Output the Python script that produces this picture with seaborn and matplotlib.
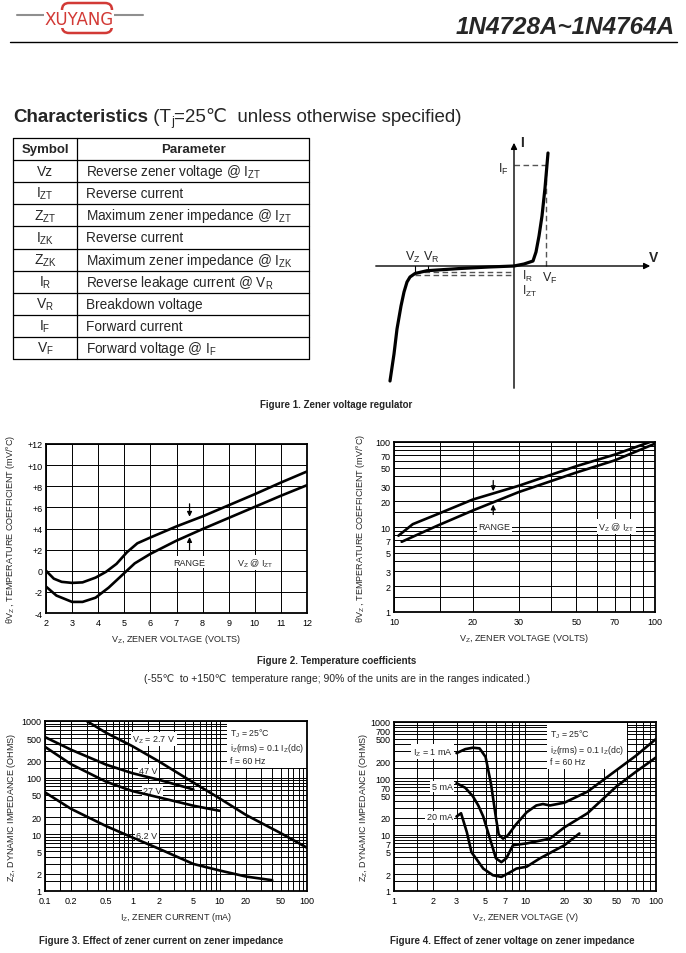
import matplotlib
matplotlib.use("Agg")
import matplotlib.pyplot as plt
from matplotlib import font_manager
from matplotlib.patches import FancyBboxPatch
from matplotlib.ticker import NullFormatter
import seaborn as sns

# ---------------- data ----------------
table_symbols = ["Vz", "I$_{ZT}$", "Z$_{ZT}$", "I$_{ZK}$", "Z$_{ZK}$",
                 "I$_R$", "V$_R$", "I$_F$", "V$_F$"]
table_params = [
    "Reverse zener voltage @ I$_{ZT}$",
    "Reverse current",
    "Maximum zener impedance @ I$_{ZT}$",
    "Reverse current",
    "Maximum zener impedance @ I$_{ZK}$",
    "Reverse leakage current @ V$_R$",
    "Breakdown voltage",
    "Forward current",
    "Forward voltage @ I$_F$",
]

# figure 1: schematic V-I characteristic (arbitrary units)
iv_volt = [-124, -120, -117, -113, -110, -107, -104, -99, -87, -54, -25, 0,
           10, 19, 22, 25, 28, 31, 34]
iv_curr = [-115, -88, -63, -40, -26, -16, -11, -7.5, -4.7, -2.5, -1, 0,
           2, 5, 14, 30, 50, 78, 113]
iv_if, iv_vf = 101, 32
iv_ir, iv_izt = -5.7, -8.7
iv_vz, iv_vr = -99, -86

# figure 2 left: temperature coefficient, 2-12 V
tc_lo_vz_a = [2, 2.3, 2.6, 3.0, 3.4, 3.9, 4.3, 4.7, 5.1, 5.5, 6.0, 7, 8, 9, 10, 11, 12]
tc_lo_max = [0.0, -0.75, -1.05, -1.15, -1.1, -0.65, -0.1, 0.65, 1.75, 2.6, 3.15,
             4.2, 5.15, 6.2, 7.25, 8.35, 9.4]
tc_lo_vz_b = [2, 2.4, 3.0, 3.4, 3.9, 4.4, 4.9, 5.4, 6.0, 7, 8, 9, 10, 11, 12]
tc_lo_min = [-1.5, -2.35, -2.95, -2.95, -2.55, -1.6, -0.45, 0.7, 1.6, 2.85,
             3.95, 5.0, 6.05, 7.1, 8.1]

# figure 2 right: temperature coefficient, 10-100 V
tc_hi_vz_a = [10.4, 11.8, 14.7, 20, 30, 50, 70, 100]
tc_hi_max = [7.9, 10.8, 14.2, 21, 30.5, 52, 71, 105]
tc_hi_vz_b = [10.7, 14.7, 20, 30, 50, 70, 100]
tc_hi_min = [6.7, 10.4, 15.6, 25.7, 43.8, 60.7, 95.6]

# figure 3: impedance vs zener current
iz_27 = [0.3, 0.5, 1, 2, 5, 10, 20, 50, 100]
zz_27 = [1000, 620, 360, 195, 82, 43, 22, 10.5, 5.8]
iz_47 = [0.1, 0.2, 0.5, 1, 2, 5]
zz_47 = [520, 310, 170, 120, 92, 62]
iz_270 = [0.1, 0.2, 0.5, 1, 2, 5, 10]
zz_270 = [350, 172, 85, 58, 45, 32, 26]
iz_62 = [0.1, 0.2, 0.5, 1, 2, 5, 10, 20, 40]
zz_62 = [55, 28, 14, 8.8, 5.6, 3.0, 2.3, 1.8, 1.55]

# figure 4: impedance vs zener voltage
vz_1ma = [3.0, 3.5, 4.0, 4.5, 5.0, 5.5, 6.0, 6.3, 6.8, 7.4, 8.5, 10.3, 12.2,
          13.7, 15.5, 20, 30, 50, 70, 100]
zz_1ma = [280, 330, 350, 340, 240, 80, 20, 10, 8.5, 9.7, 15, 25, 33, 35, 33,
          37, 58, 140, 250, 500]
vz_5ma = [3.0, 3.5, 4.0, 4.4, 4.8, 5.4, 6.0, 6.6, 7.2, 8.1, 10.3, 15.5, 20, 30,
          50, 70, 100]
zz_5ma = [82, 68, 48, 33, 21, 8.5, 3.8, 3.25, 3.8, 6.5, 7.0, 8.5, 13.5, 24, 72,
          130, 235]
vz_20ma = [3.0, 3.25, 3.6, 3.9, 4.8, 5.7, 6.6, 7.7, 8.6, 10.3, 13, 20, 26]
zz_20ma = [21, 24, 11, 4.9, 2.5, 1.9, 1.78, 2.15, 2.5, 2.7, 3.8, 6.5, 10.5]

# ---------------- style ----------------
sns.set_theme(style="white")
plt.rcParams["font.family"] = ["Liberation Sans", "DejaVu Sans"]
plt.rcParams["mathtext.default"] = "regular"
plt.rcParams["axes.unicode_minus"] = False

names = {f.name for f in font_manager.fontManager.ttflist}
narrow = "Liberation Sans Narrow" if "Liberation Sans Narrow" in names else "Liberation Sans"
chart_font = [narrow, "DejaVu Sans"]

W, H = 686, 954
fig = plt.figure(figsize=(W / 100, H / 100), dpi=100)
fig.patch.set_facecolor("white")


def px_axes(x0, y0, x1, y1):
    return fig.add_axes([x0 / W, 1 - y1 / H, (x1 - x0) / W, (y1 - y0) / H])


# page overlay in pixel coordinates
page = px_axes(0, 0, W, H)
page.set_xlim(0, W)
page.set_ylim(H, 0)
page.axis("off")

# header
page.plot([17, 143], [16, 16], color="#8f8f8f", lw=1.5)
page.add_patch(FancyBboxPatch((62, 4), 50, 30, boxstyle="round,pad=0,rounding_size=7",
                              ec="#d23a36", fc="none", lw=1.8))
page.text(79, 20, "XUYANG", color="#d23a36", fontsize=12,
          family="DejaVu Sans", ha="center", va="center",
          bbox=dict(fc="white", ec="none", pad=0.3))
page.text(675, 28, "1N4728A~1N4764A", fontsize=17.5, fontweight="bold",
          fontstyle="italic", ha="right", va="center")
page.plot([10, 677], [43, 43], color="black", lw=1)

# characteristics title
t1 = page.text(13, 126, "Characteristics", fontsize=13.5, fontweight="bold",
               ha="left", va="bottom")
t2 = page.annotate(" (T", xy=(1, 0), xycoords=t1, fontsize=13.5, ha="left", va="bottom")
t3 = page.annotate("j", xy=(1, 0), xycoords=t2, xytext=(0, -1.5), textcoords="offset points",
                   fontsize=9, ha="left", va="bottom")
page.annotate("=25\u2103  unless otherwise specified)", xy=(1, 0), xycoords=t3,
              xytext=(0, 1.5), textcoords="offset points", fontsize=13.5,
              ha="left", va="bottom")

# table
tx0, tx1, txc = 13, 309, 77
row_h = 22.1
ty0 = 139
n_rows = len(table_symbols) + 1
for k in range(n_rows + 1):
    page.plot([tx0, tx1], [ty0 + k * row_h] * 2, color="black", lw=0.9)
for xv in (tx0, txc, tx1):
    page.plot([xv, xv], [ty0, ty0 + n_rows * row_h], color="black", lw=0.9)
page.text((tx0 + txc) / 2, ty0 + row_h / 2, "Symbol", fontsize=9.5, fontweight="bold",
          ha="center", va="center")
page.text((txc + tx1) / 2, ty0 + row_h / 2, "Parameter", fontsize=9.5, fontweight="bold",
          ha="center", va="center")
for k, (sym, par) in enumerate(zip(table_symbols, table_params)):
    yc = ty0 + (k + 1.5) * row_h
    page.text((tx0 + txc) / 2, yc, sym, fontsize=10, ha="center", va="center")
    page.text(86, yc, par, fontsize=9.8, ha="left", va="center")

# captions
page.text(336, 405, "Figure 1. Zener voltage regulator", fontsize=7, fontweight="bold",
          ha="center", va="center")
page.text(337, 661, "Figure 2. Temperature coefficients", fontsize=7, fontweight="bold",
          ha="center", va="center")
page.text(337, 679, "(-55\u2103  to +150\u2103  temperature range; 90% of the units are in "
          "the ranges indicated.)", fontsize=7.5, ha="center", va="center")
page.text(161.5, 941, "Figure 3. Effect of zener current on zener impedance",
          fontsize=7, fontweight="bold", ha="center", va="center")
page.text(512.5, 941, "Figure 4. Effect of zener voltage on zener impedance",
          fontsize=7, fontweight="bold", ha="center", va="center")

# ---------------- figure 1 ----------------
ax1 = px_axes(370, 140, 660, 395)
ax1.set_xlim(-144, 146)
ax1.set_ylim(-128, 127)
ax1.axis("off")
arrow = dict(arrowstyle="-|>", lw=1, color="black", mutation_scale=9)
ax1.annotate("", xy=(139, 0), xytext=(-141, 0), arrowprops=arrow)
ax1.annotate("", xy=(0, 126), xytext=(0, -125), arrowprops=arrow)
sns.lineplot(x=iv_volt, y=iv_curr, ax=ax1, sort=False, estimator=None,
             color="black", lw=2.3, zorder=3)
dash = dict(color="#555555", lw=1, ls=(0, (4, 2.5)))
ax1.plot([0, iv_vf], [iv_if, iv_if], **dash)
ax1.plot([iv_vf, iv_vf], [0, iv_if], **dash)
ax1.plot([iv_vz, 0], [iv_ir, iv_ir], **dash)
ax1.plot([iv_vz, 0], [iv_izt, iv_izt], **dash)
ax1.plot([iv_vz, iv_vz], [0, -6], color="black", lw=0.8)
ax1.plot([iv_vr, iv_vr], [0, -5], color="black", lw=0.8)
ax1.text(-101, 2, "V$_Z$", fontsize=9, ha="center", va="bottom")
ax1.text(-83, 2, "V$_R$", fontsize=9, ha="center", va="bottom")
ax1.text(-5, 98, "I$_F$", fontsize=9, ha="right", va="center")
ax1.text(36, -11, "V$_F$", fontsize=9, ha="center", va="center")
ax1.text(8, -1.5, "I$_R$", fontsize=8.5, ha="left", va="top")
ax1.text(8, -16.5, "I$_{ZT}$", fontsize=8.5, ha="left", va="top")
ax1.text(140, 8.5, "V", fontsize=10, fontweight="bold", ha="center", va="center")
ax1.text(8, 124, "I", fontsize=10, fontweight="bold", ha="center", va="center")


# ---------------- chart helpers ----------------
def style_chart(ax, xlabel, ylabel, ylab_x):
    for s in ax.spines.values():
        s.set_visible(True)
        s.set_color("black")
        s.set_linewidth(1.3)
    ax.tick_params(which="both", length=0, pad=2.5, labelsize=6.5, colors="black")
    ax.tick_params(axis="x", which="both", pad=3.5)
    ax.grid(which="both", color="black", lw=0.7)
    ax.set_axisbelow(True)
    ax.set_xlabel(xlabel, fontsize=6.5, family=chart_font, labelpad=4)
    ax.set_ylabel(ylabel, fontsize=6.5, family=chart_font)
    ax.yaxis.set_label_coords(ylab_x, 0.5)
    for lbl in ax.get_xticklabels() + ax.get_yticklabels():
        lbl.set_family(chart_font)


def log_ticks(ax, xmaj, xmin, ymaj, ymin):
    ax.set_xscale("log")
    ax.set_yscale("log")
    ax.set_xticks(xmaj, labels=[f"{v:g}" for v in xmaj])
    ax.set_xticks(xmin, minor=True)
    ax.set_yticks(ymaj, labels=[f"{v:g}" for v in ymaj])
    ax.set_yticks(ymin, minor=True)
    ax.xaxis.set_minor_formatter(NullFormatter())
    ax.yaxis.set_minor_formatter(NullFormatter())


def decade_grid(lo, hi, keep):
    vals = []
    d = lo
    while d < hi:
        for m in (1, 1.5, 2, 3, 4, 5, 6, 7, 8, 9):
            v = round(d * m, 6)
            if lo <= v <= hi and v not in keep:
                vals.append(v)
        d *= 10
    return vals


lab_box = dict(fc="white", ec="none", pad=1)
curve = dict(color="black", lw=1.9, sort=False, estimator=None, zorder=3)
tiny_arrow = dict(arrowstyle="-|>", lw=0.9, color="black", mutation_scale=7)

# ---------------- figure 2 left ----------------
ax2 = px_axes(46, 445, 307, 614)
sns.lineplot(x=tc_lo_vz_a, y=tc_lo_max, ax=ax2, **curve)
sns.lineplot(x=tc_lo_vz_b, y=tc_lo_min, ax=ax2, **curve)
ax2.set_xlim(2, 12)
ax2.set_ylim(-4, 12)
ax2.set_xticks(range(2, 13))
ax2.set_yticks(range(-4, 13, 2),
               labels=[f"+{v}" if v > 0 else f"{v}" for v in range(-4, 13, 2)])
ax2.annotate("", xy=(7.5, 4.85), xytext=(7.5, 6.6), arrowprops=tiny_arrow)
ax2.annotate("", xy=(7.5, 3.45), xytext=(7.5, 1.7), arrowprops=tiny_arrow)
ax2.text(7.5, 0.8, "RANGE", fontsize=6.5, family=chart_font, ha="center", va="center",
         bbox=lab_box, zorder=2.5)
ax2.text(10.0, 0.8, "V$_Z$ @ I$_{ZT}$", fontsize=6.5, family=chart_font, ha="center",
         va="center", bbox=lab_box, zorder=2.5)
style_chart(ax2, "V$_Z$, ZENER VOLTAGE (VOLTS)",
            "\u03b8V$_Z$ , TEMPERATURE COEFFICIENT (mV/\u00b0C)", -0.111)

# ---------------- figure 2 right ----------------
ax3 = px_axes(394, 443, 655, 613)
sns.lineplot(x=tc_hi_vz_a, y=tc_hi_max, ax=ax3, **curve)
sns.lineplot(x=tc_hi_vz_b, y=tc_hi_min, ax=ax3, **curve)
log_ticks(ax3, [10, 20, 30, 50, 70, 100], [15, 40, 60, 80, 90],
          [1, 2, 3, 5, 7, 10, 20, 30, 50, 70, 100],
          [1.5, 4, 6, 8, 9, 15, 40, 60, 80, 90])
ax3.set_xlim(10, 100)
ax3.set_ylim(1, 100)
ax3.annotate("", xy=(24, 24.5), xytext=(24, 38), arrowprops=tiny_arrow)
ax3.annotate("", xy=(24, 19.8), xytext=(24, 13), arrowprops=tiny_arrow)
ax3.text(24.2, 10.2, "RANGE", fontsize=6.5, family=chart_font, ha="center", va="center",
         bbox=lab_box, zorder=2.5)
ax3.text(71, 10.2, "V$_Z$ @ I$_{ZT}$", fontsize=6.5, family=chart_font, ha="center",
         va="center", bbox=lab_box, zorder=2.5)
style_chart(ax3, "V$_Z$, ZENER VOLTAGE (VOLTS)",
            "\u03b8V$_Z$ , TEMPERATURE COEFFICIENT (mV/\u00b0C)", -0.103)

# ---------------- figure 3 ----------------
ax4 = px_axes(45, 722, 307, 892)
for xs, ys in ((iz_27, zz_27), (iz_47, zz_47), (iz_270, zz_270), (iz_62, zz_62)):
    sns.lineplot(x=xs, y=ys, ax=ax4, **curve)
x3_major = [0.1, 0.2, 0.5, 1, 2, 5, 10, 20, 50, 100]
y3_major = [1, 2, 5, 10, 20, 50, 100, 200, 500, 1000]
log_ticks(ax4, x3_major, decade_grid(0.1, 100, x3_major),
          y3_major, decade_grid(1, 1000, y3_major))
ax4.set_xlim(0.1, 100)
ax4.set_ylim(1, 1000)
for txt, xv, yv in (("V$_Z$ = 2.7 V", 1.77, 475), ("47 V", 1.52, 135),
                    ("27 V", 1.7, 60), ("6.2 V", 1.46, 9.5)):
    ax4.text(xv, yv, txt, fontsize=6.5, family=chart_font, ha="center", va="center",
             bbox=lab_box, zorder=2.5)
ax4.text(0.705, 0.97, "T$_J$ = 25\u00b0C\ni$_Z$(rms) = 0.1 I$_Z$(dc)\nf = 60 Hz",
         transform=ax4.transAxes, fontsize=6.3, family=chart_font, ha="left", va="top",
         linespacing=1.25, zorder=2.5,
         bbox=dict(fc="white", ec="none", boxstyle="square,pad=0.35"))
style_chart(ax4, "I$_Z$, ZENER CURRENT (mA)",
            "Z$_Z$, DYNAMIC IMPEDANCE (OHMS)", -0.103)

# ---------------- figure 4 ----------------
ax5 = px_axes(394, 723, 656, 892)
for xs, ys in ((vz_1ma, zz_1ma), (vz_5ma, zz_5ma), (vz_20ma, zz_20ma)):
    sns.lineplot(x=xs, y=ys, ax=ax5, **curve)
x4_major = [1, 2, 3, 5, 7, 10, 20, 30, 50, 70, 100]
y4_major = [1, 2, 5, 7, 10, 20, 50, 70, 100, 200, 500, 700, 1000]
log_ticks(ax5, x4_major, decade_grid(1, 100, x4_major),
          y4_major, decade_grid(1, 1000, y4_major))
ax5.set_xlim(1, 100)
ax5.set_ylim(1, 1000)
for txt, yv in (("I$_Z$ = 1 mA", 300), ("5 mA", 72), ("20 mA", 20.6)):
    ax5.text(2.8, yv, txt, fontsize=6.5, family=chart_font, ha="right", va="center",
             bbox=lab_box, zorder=2.5)
ax5.text(0.595, 0.965, "T$_J$ = 25\u00b0C\ni$_Z$(rms) = 0.1 I$_Z$(dc)\nf = 60 Hz",
         transform=ax5.transAxes, fontsize=6.3, family=chart_font, ha="left", va="top",
         linespacing=1.25, zorder=2.5,
         bbox=dict(fc="white", ec="none", boxstyle="square,pad=0.35"))
style_chart(ax5, "V$_Z$, ZENER VOLTAGE (V)",
            "Z$_Z$, DYNAMIC IMPEDANCE (OHMS)", -0.092)

fig.savefig("out.png", dpi=100, facecolor="white")
